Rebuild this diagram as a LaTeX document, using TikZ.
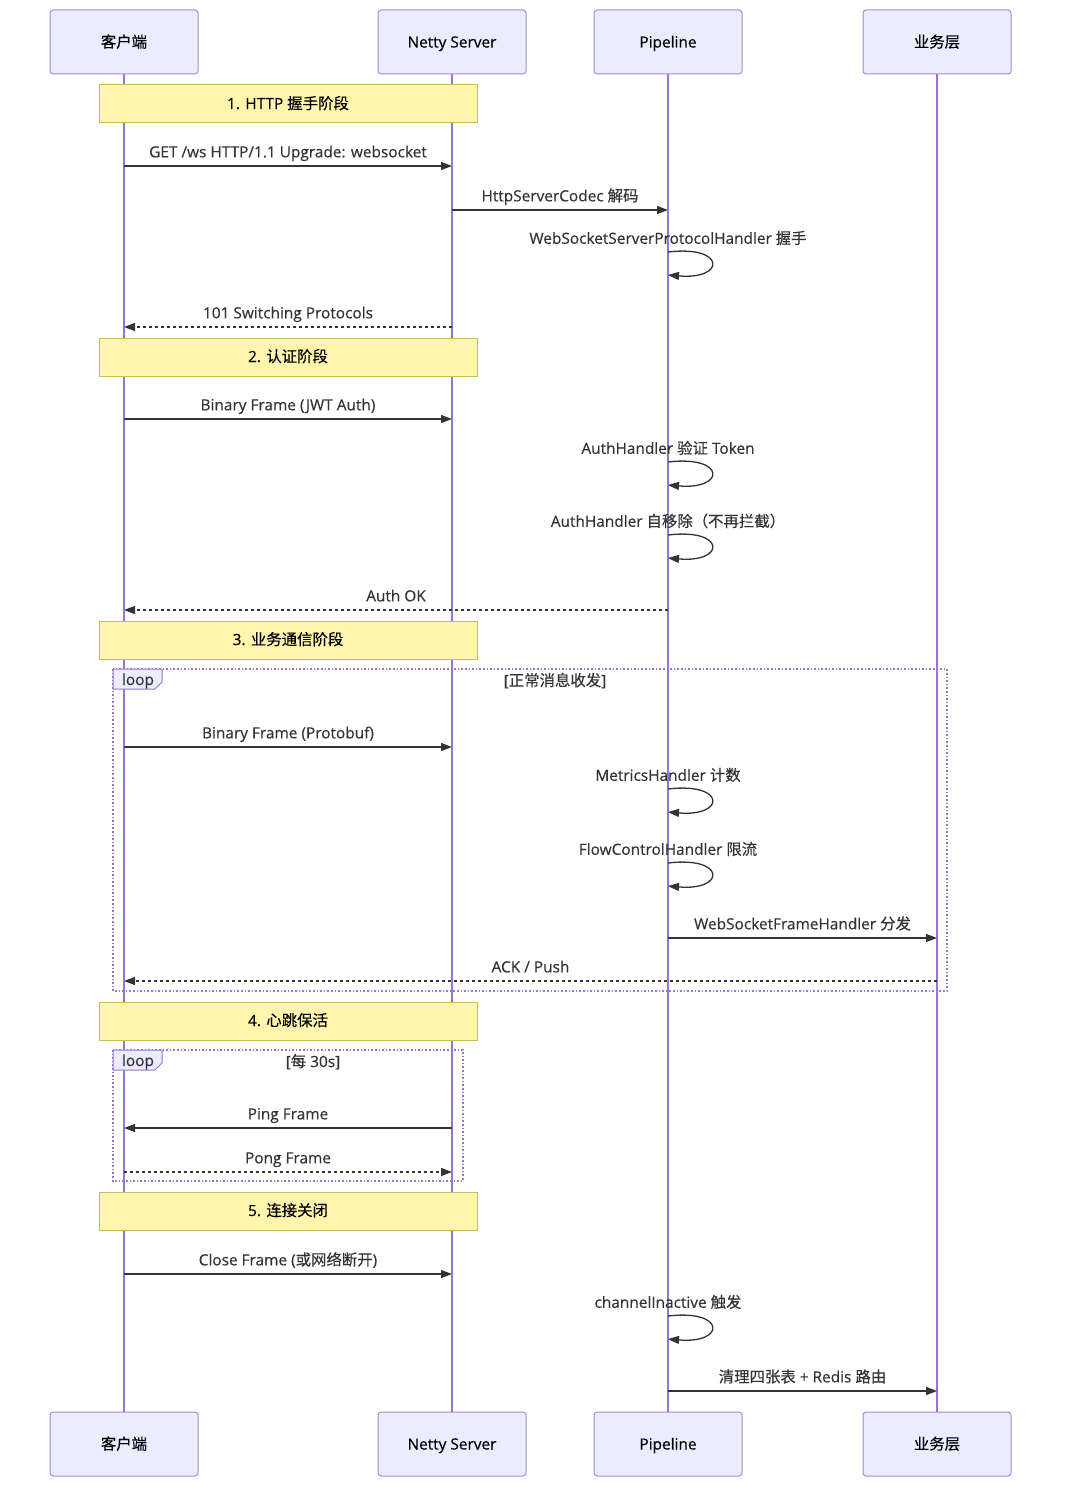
\documentclass[tikz,border=0pt]{standalone}
\usepackage{fontspec}
\setmainfont{Open Sans}[FakeBold=0.35]
\newfontfamily\cjk{Noto Sans CJK SC}[FakeBold=0.25]
\newcommand{\zh}[1]{{\cjk #1}}
\newcommand{\msgfont}{\fontsize{15.4}{18}\selectfont}
\usepackage{tikz}
\usetikzlibrary{arrows.meta, positioning, calc}
\usepackage{xcolor}
\definecolor{ActorFill}{RGB}{236, 236, 255}
\definecolor{ActorLine}{RGB}{160, 140, 222}
\definecolor{LifeLine}{RGB}{150, 118, 210}
\definecolor{NoteFill}{RGB}{255, 245, 173}
\definecolor{NoteLine}{RGB}{196, 190, 90}
\definecolor{MsgDark}{RGB}{51, 51, 51}

\begin{document}
\begin{tikzpicture}[
            x=1pt, y=-1pt,
            actor/.style={draw=ActorLine, fill=ActorFill, line width=1pt, rounded corners=3pt, minimum width=148pt, minimum height=64pt, font=\msgfont, text=black, text height=14pt, text depth=3pt},
            note/.style={draw=NoteLine, fill=NoteFill, line width=1pt, minimum width=378pt, minimum height=38pt, font=\msgfont, text=black, text height=13pt, text depth=3pt},
            lifeline/.style={draw=LifeLine, line width=1.6pt},
            msg/.style={draw=MsgDark, line width=1.3pt, -{Triangle[length=11pt, width=8pt]}},
            reply/.style={msg, dash pattern=on 3pt off 3pt},
            lbl/.style={font=\msgfont, text=MsgDark, inner sep=0pt, text height=11pt, text depth=3pt},
            loopframe/.style={draw=LifeLine, line width=1.6pt, dash pattern=on 1.6pt off 2pt},
            looptab/.style={draw=LifeLine, fill=ActorFill, line width=1pt}
        ]
        \useasboundingbox[fill=white] (0,0) rectangle (1069,1498);

        % --- ROWS (y of each message) ---
        \coordinate (r1) at (0,166);
        \coordinate (r2) at (0,210);
        \coordinate (r3) at (0,252);
        \coordinate (r4) at (0,327);
        \coordinate (r5) at (0,419);
        \coordinate (r6) at (0,462);
        \coordinate (r7) at (0,535);
        \coordinate (r8) at (0,610);
        \coordinate (r9) at (0,747);
        \coordinate (r10) at (0,789);
        \coordinate (r11) at (0,863);
        \coordinate (r12) at (0,938);
        \coordinate (r13) at (0,981);
        \coordinate (r14) at (0,1128);
        \coordinate (r15) at (0,1172);
        \coordinate (r16) at (0,1274);
        \coordinate (r17) at (0,1316);
        \coordinate (r18) at (0,1391);

        % --- UCZESTNICY (GÓRA / DÓŁ) ---
        \node[actor] (cliTop) at (124, 42) {\zh{客户端}};
        \node[actor] (nettyTop) at (452, 42) {Netty Server};
        \node[actor] (pipeTop) at (668, 42) {Pipeline};
        \node[actor] (bizTop) at (937, 42) {\zh{业务层}};

        \node[actor] (cliBot) at (124, 1444) {\zh{客户端}};
        \node[actor] (nettyBot) at (452, 1444) {Netty Server};
        \node[actor] (pipeBot) at (668, 1444) {Pipeline};
        \node[actor] (bizBot) at (937, 1444) {\zh{业务层}};

        % --- LINIE ŻYCIA ---
        \draw[lifeline] (cliTop) -- (cliBot);
        \draw[lifeline] (nettyTop) -- (nettyBot);
        \draw[lifeline] (pipeTop) -- (pipeBot);
        \draw[lifeline] (bizTop) -- (bizBot);

        % --- RAMKI LOOP ---
        \draw[loopframe] (113, 669) rectangle (947, 991);
        \draw[looptab] (113, 669) -- (162, 669) -- (162, 682) -- (155, 689) -- (113, 689) -- cycle;
        \node[lbl] (loopA) at (138, 681) {loop};
        \node[lbl] (loopAtxt) at (555, 682) {[\zh{正常消息收发}]};

        \draw[loopframe] (113, 1050) rectangle (463, 1181);
        \draw[looptab] (113, 1050) -- (162, 1050) -- (162, 1063) -- (155, 1070) -- (113, 1070) -- cycle;
        \node[lbl] (loopB) at (138, 1062) {loop};
        \node[lbl] (loopBtxt) at (313, 1063) {[\zh{每} 30s]};

        % --- NOTATKI FAZ ---
        \node[note] (phase1) at (288, 104) {1. HTTP \zh{握手阶段}};
        \node[note] (phase2) at (288, 357) {2. \zh{认证阶段}};
        \node[note] (phase3) at (288, 640) {3. \zh{业务通信阶段}};
        \node[note] (phase4) at (288, 1021) {4. \zh{心跳保活}};
        \node[note] (phase5) at (288, 1211) {5. \zh{连接关闭}};

        % --- FAZA 1: Handshake ---
        \draw[msg] (cliTop |- r1) -- (nettyTop |- r1) node[lbl, midway, above=5pt] {GET /ws HTTP/1.1 Upgrade: websocket};
        \draw[msg] (nettyTop |- r2) -- (pipeTop |- r2) node[lbl, midway, above=5pt] {HttpServerCodec \zh{解码}};
        \draw[msg] (pipeTop |- r3) .. controls +(58,-7) and +(58,5) .. ($(pipeTop |- r3)+(0,23)$);
        \node[lbl, above=5pt] (self1) at (pipeTop |- r3) {WebSocketServerProtocolHandler \zh{握手}};
        \draw[reply] (nettyTop |- r4) -- (cliTop |- r4) node[lbl, midway, above=5pt] {101 Switching Protocols};

        % --- FAZA 2: Auth ---
        \draw[msg] (cliTop |- r5) -- (nettyTop |- r5) node[lbl, midway, above=5pt] {Binary Frame (JWT Auth)};
        \draw[msg] (pipeTop |- r6) .. controls +(58,-7) and +(58,5) .. ($(pipeTop |- r6)+(0,23)$);
        \node[lbl, above=5pt] (self2) at (pipeTop |- r6) {AuthHandler \zh{验证} Token};
        \draw[msg] (pipeTop |- r7) .. controls +(58,-7) and +(58,5) .. ($(pipeTop |- r7)+(0,23)$);
        \node[lbl, above=5pt] (self3) at (pipeTop |- r7) {AuthHandler \zh{自移除（不再拦截）}};
        \draw[reply] (pipeTop |- r8) -- (cliTop |- r8) node[lbl, midway, above=5pt] {Auth OK};

        % --- FAZA 3: Biznes ---
        \draw[msg] (cliTop |- r9) -- (nettyTop |- r9) node[lbl, midway, above=5pt] {Binary Frame (Protobuf)};
        \draw[msg] (pipeTop |- r10) .. controls +(58,-7) and +(58,5) .. ($(pipeTop |- r10)+(0,23)$);
        \node[lbl, above=5pt] (self4) at (pipeTop |- r10) {MetricsHandler \zh{计数}};
        \draw[msg] (pipeTop |- r11) .. controls +(58,-7) and +(58,5) .. ($(pipeTop |- r11)+(0,23)$);
        \node[lbl, above=5pt] (self5) at (pipeTop |- r11) {FlowControlHandler \zh{限流}};
        \draw[msg] (pipeTop |- r12) -- (bizTop |- r12) node[lbl, midway, above=5pt] {WebSocketFrameHandler \zh{分发}};
        \draw[reply] (bizTop |- r13) -- (cliTop |- r13) node[lbl, midway, above=5pt] {ACK / Push};

        % --- FAZA 4: Heartbeat ---
        \draw[msg] (nettyTop |- r14) -- (cliTop |- r14) node[lbl, midway, above=5pt] {Ping Frame};
        \draw[reply] (cliTop |- r15) -- (nettyTop |- r15) node[lbl, midway, above=5pt] {Pong Frame};

        % --- FAZA 5: Zamknięcie ---
        \draw[msg] (cliTop |- r16) -- (nettyTop |- r16) node[lbl, midway, above=5pt] {Close Frame (\zh{或网络断开})};
        \draw[msg] (pipeTop |- r17) .. controls +(58,-7) and +(58,5) .. ($(pipeTop |- r17)+(0,23)$);
        \node[lbl, above=5pt] (self6) at (pipeTop |- r17) {channelInactive \zh{触发}};
        \draw[msg] (pipeTop |- r18) -- (bizTop |- r18) node[lbl, midway, above=5pt] {\zh{清理四张表} + Redis \zh{路由}};

        \end{tikzpicture}
\end{document}
